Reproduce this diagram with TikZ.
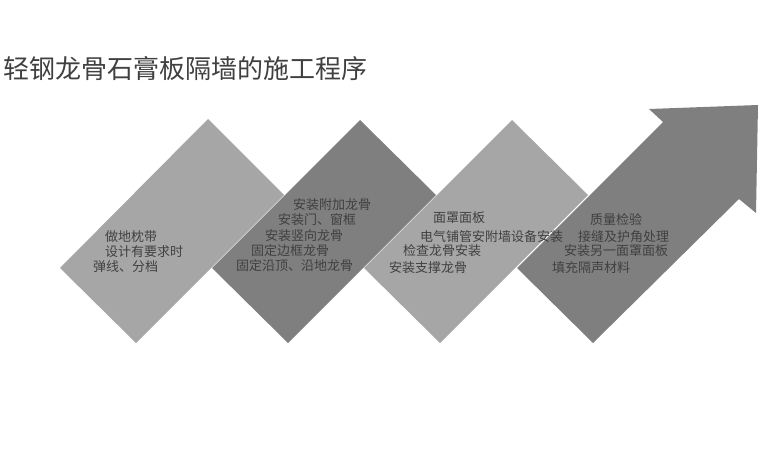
\documentclass[tikz,border=0pt]{standalone}
\usepackage{fontspec}
\usepackage{xcolor}
\usepackage{tikz}
\newfontfamily\cjk{Noto Sans CJK SC}
\definecolor{lightgrey}{HTML}{A6A6A6}
\definecolor{darkgrey}{HTML}{7F7F7F}
\definecolor{textgrey}{HTML}{404040}

\begin{document}
\begin{tikzpicture}[x=1pt,y=-1pt,every node/.style={inner sep=0pt,anchor=west,text=textgrey,font=\cjk\fontsize{13}{13}\selectfont}]
\useasboundingbox (0,0) rectangle (760,476);
\fill[lightgrey] (60,268) -- (208,119) -- (284,195) -- (136,343) -- cycle;
\fill[darkgrey] (212,268) -- (360,120) -- (436,195) -- (288,343) -- cycle;
\fill[lightgrey] (364,268) -- (512,120) -- (588,195) -- (440,343) -- cycle;
\fill[darkgrey] (517,268) -- (663,122) -- (649,109) -- (758,105) -- (756,213) -- (739,199) -- (593,343) -- cycle;
\node[font=\cjk\fontsize{26}{26}\selectfont] (title) at (3,69) {轻钢龙骨石膏板隔墙的施工程序};
\node (a1) at (105,237) {做地枕带};
\node (a2) at (105,252) {设计有要求时};
\node (a3) at (93,267) {弹线、分档};
\node (b1) at (293,205) {安装附加龙骨};
\node (b2) at (278,220) {安装门、窗框};
\node (b3) at (265,236) {安装竖向龙骨};
\node (b4) at (251,251) {固定边框龙骨};
\node (b5) at (236,266) {固定沿顶、沿地龙骨};
\node (c1) at (433,218) {面罩面板};
\node (c2) at (420,237) {电气铺管安附墙设备安装};
\node (c3) at (403,251) {检查龙骨安装};
\node (c4) at (389,268) {安装支撑龙骨};
\node (d1) at (590,220) {质量检验};
\node (d2) at (578,237) {接缝及护角处理};
\node (d3) at (564,251) {安装另一面罩面板};
\node (d4) at (552,268) {填充隔声材料};
\end{tikzpicture}
\end{document}
